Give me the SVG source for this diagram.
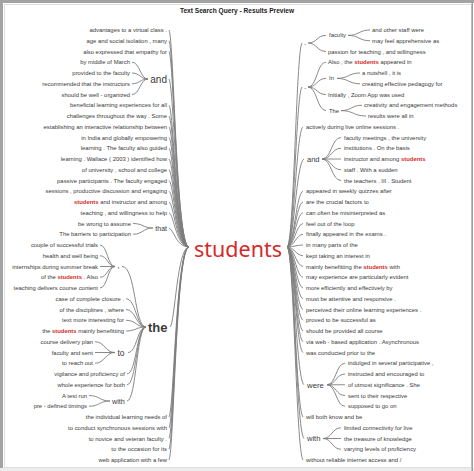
<svg xmlns="http://www.w3.org/2000/svg" width="474" height="471" viewBox="0 0 474 471">
<style>
text{font-family:"Liberation Sans",Arial,sans-serif;fill:#3a3a3a}
.t{font-size:5.9px}
.e{text-anchor:end}
.hl{fill:#d42a2a;font-weight:bold}
.title{font-size:6.6px;font-weight:bold;text-anchor:middle;fill:#222}
.root{font-family:"Noto Sans","Open Sans",sans-serif;font-size:21.5px;fill:#d42a2a;text-anchor:middle}
.c path{fill:none;stroke:#7d7d7d;stroke-width:0.9}
</style>
<rect x="0" y="0" width="474" height="471" fill="#ffffff"/>
<rect x="4.5" y="4.5" width="467" height="463" fill="none" stroke="#dedede" stroke-width="1"/>
<rect x="0" y="0" width="3" height="471" fill="#a3a3a3"/>
<rect x="0" y="0" width="474" height="3" fill="#a3a3a3"/>
<rect x="0" y="468" width="474" height="3" fill="#ececec"/>
<rect x="471.5" y="0" width="1.5" height="471" fill="#9e9e9e"/>
<text class="title" x="237" y="13">Text Search Query - Results Preview</text>

<g id="connectors" class="c">
<!-- left root connectors -->
<path d="M169,30 C174,38.7 176,247 189,247"/>
<path d="M169,40.75 C174,49 176,247 189,247"/>
<path d="M169,51.5 C174,59.3 176,247 189,247"/>
<path d="M169,79 C174,85.1 176,247 189,247"/>
<path d="M169,105.25 C174,110.9 176,247 189,247"/>
<path d="M169,116 C174,121.2 176,247 189,247"/>
<path d="M169,126.75 C174,131.6 176,247 189,247"/>
<path d="M169,137.5 C174,141.9 176,247 189,247"/>
<path d="M169,148.25 C174,152.2 176,247 189,247"/>
<path d="M169,159 C174,162.5 176,247 189,247"/>
<path d="M169,169.75 C174,172.8 176,247 189,247"/>
<path d="M169,180.5 C174,183.2 176,247 189,247"/>
<path d="M169,191.25 C174,193.5 176,247 189,247"/>
<path d="M169,202 C174,203.8 176,247 189,247"/>
<path d="M169,212.75 C174,214.1 176,247 189,247"/>
<path d="M169,228 C174,229.7 176,247 189,247"/>
<path d="M170,327 C175,323.8 177,247 189,247"/>
<path d="M169,417 C174,410.2 176,247 189,247"/>
<path d="M169,427.75 C174,420.6 176,247 189,247"/>
<path d="M169,438.5 C174,430.9 176,247 189,247"/>
<path d="M169,449.25 C174,441.2 176,247 189,247"/>
<path d="M169,460 C174,451.5 176,247 189,247"/>
<!-- left sub connectors -->
<path d="M132,62.25 C140,62.25 140,79 148,79"/>
<path d="M132,73 C140,73 140,79 148,79"/>
<path d="M132,83.75 C140,83.75 140,79 148,79"/>
<path d="M132,94.5 C140,94.5 140,79 148,79"/>
<path d="M133,223.5 C143,223.5 143,228 153,228"/>
<path d="M133,234.25 C143,234.25 143,228 153,228"/>
<path d="M100,245 C107.5,245 107.5,266.5 115,266.5"/>
<path d="M100,255.75 C107.5,255.75 107.5,266.5 115,266.5"/>
<path d="M100,266.5 L115,266.5"/>
<path d="M100,277.25 C107.5,277.25 107.5,266.5 115,266.5"/>
<path d="M100,288 C107.5,288 107.5,266.5 115,266.5"/>
<path d="M122,266.5 C136,266.5 134,327 146,327"/>
<path d="M126,298.75 C136,298.75 136,327 146,327"/>
<path d="M126,309.5 C136,309.5 136,327 146,327"/>
<path d="M126,320.25 C136,320.25 136,327 146,327"/>
<path d="M126,331 C136,331 136,327 146,327"/>
<path d="M128,352.5 C137,352.5 137,327 146,327"/>
<path d="M127,374 C136.5,374 136.5,327 146,327"/>
<path d="M127,384.75 C136.5,384.75 136.5,327 146,327"/>
<path d="M127,401 C136.5,401 136.5,327 146,327"/>
<path d="M95,341.75 C105,341.75 105,352.5 115,352.5"/>
<path d="M95,352.5 L115,352.5"/>
<path d="M95,363.25 C105,363.25 105,352.5 115,352.5"/>
<path d="M89,395.5 C99.5,395.5 99.5,401 110,401"/>
<path d="M89,406.25 C99.5,406.25 99.5,401 110,401"/>
<!-- right root connectors -->
<path d="M302,43 C296,51.2 294,247 287,247"/>
<path d="M302,87 C296,93.4 294,247 287,247"/>
<path d="M303,126.75 C296,131.6 294,247 287,247"/>
<path d="M304,159 C296,162.5 294,247 287,247"/>
<path d="M303,191.25 C296,193.5 294,247 287,247"/>
<path d="M303,202 C296,203.8 294,247 287,247"/>
<path d="M303,212.75 C296,214.1 294,247 287,247"/>
<path d="M303,223.5 C296,224.4 294,247 287,247"/>
<path d="M303,234.25 C296,234.8 294,247 287,247"/>
<path d="M303,245 C296,245.1 294,247 287,247"/>
<path d="M303,255.75 C296,255.4 294,247 287,247"/>
<path d="M303,266.5 C296,265.7 294,247 287,247"/>
<path d="M303,277.25 C296,276 294,247 287,247"/>
<path d="M303,288 C296,286.4 294,247 287,247"/>
<path d="M303,298.75 C296,296.7 294,247 287,247"/>
<path d="M303,309.5 C296,307 294,247 287,247"/>
<path d="M303,320.25 C296,317.3 294,247 287,247"/>
<path d="M303,331 C296,327.6 294,247 287,247"/>
<path d="M303,341.75 C296,338 294,247 287,247"/>
<path d="M303,352.5 C296,348.3 294,247 287,247"/>
<path d="M304,384.75 C296,379.2 294,247 287,247"/>
<path d="M303,417 C296,410.2 294,247 287,247"/>
<path d="M304,438.5 C296,430.9 294,247 287,247"/>
<path d="M303,460 C296,451.5 294,247 287,247"/>
<!-- right sub connectors -->
<path d="M308,43 C317,43 317,35.4 326,35.4"/>
<path d="M308,43 C317,43 317,51.5 326,51.5"/>
<path d="M348,35.4 C359,35.4 359,30 370,30"/>
<path d="M348,35.4 C359,35.4 359,40.75 370,40.75"/>
<path d="M308,87 C317,87 317,62.25 326,62.25"/>
<path d="M308,87 C317,87 317,78.4 326,78.4"/>
<path d="M308,87 C317,87 317,94.5 326,94.5"/>
<path d="M308,87 C317,87 317,110.6 326,110.6"/>
<path d="M337,78.4 C348.5,78.4 348.5,73 360,73"/>
<path d="M337,78.4 C348.5,78.4 348.5,83.75 360,83.75"/>
<path d="M341,110.6 C351.5,110.6 351.5,105.25 362,105.25"/>
<path d="M341,110.6 C353.5,110.6 353.5,116 366,116"/>
<path d="M322,159 C331.5,159 331.5,137.5 341,137.5"/>
<path d="M322,159 C331.5,159 331.5,148.25 341,148.25"/>
<path d="M322,159 L341,159"/>
<path d="M322,159 C331.5,159 331.5,169.75 341,169.75"/>
<path d="M322,159 C331.5,159 331.5,180.5 341,180.5"/>
<path d="M327,384.75 C336,384.75 336,363.25 345,363.25"/>
<path d="M327,384.75 C336,384.75 336,374 345,374"/>
<path d="M327,384.75 L345,384.75"/>
<path d="M327,384.75 C336,384.75 336,395.5 345,395.5"/>
<path d="M327,384.75 C336,384.75 336,406.25 345,406.25"/>
<path d="M323,438.5 C332,438.5 332,427.75 341,427.75"/>
<path d="M323,438.5 L341,438.5"/>
<path d="M323,438.5 C332,438.5 332,449.25 341,449.25"/>
</g>

<g id="root"><text class="root" x="238" y="257">students</text></g>

<!-- left side -->
<g id="l00"><text class="t e" x="167" y="32">advantages to a virtual class .</text></g>
<g id="l01"><text class="t e" x="167" y="42.75">age and social isolation , many</text></g>
<g id="l02"><text class="t e" x="167" y="53.5">also expressed that empathy for</text></g>
<g id="l-and"><text class="e" x="167" y="83" font-size="10">and</text></g>
<g id="l03"><text class="t e" x="130" y="64.25">by middle of March</text></g>
<g id="l04"><text class="t e" x="130" y="75">provided to the faculty</text></g>
<g id="l05"><text class="t e" x="130" y="85.75">recommended that the instructors</text></g>
<g id="l06"><text class="t e" x="130" y="96.5">should be well - organized</text></g>
<g id="l07"><text class="t e" x="167" y="107.25">beneficial learning experiences for all</text></g>
<g id="l08"><text class="t e" x="167" y="118">challenges throughout the way . Some</text></g>
<g id="l09"><text class="t e" x="167" y="128.75">establishing an interactive relationship between</text></g>
<g id="l10"><text class="t e" x="167" y="139.5">in India and globally empowering</text></g>
<g id="l11"><text class="t e" x="167" y="150.25">learning . The faculty also guided</text></g>
<g id="l12"><text class="t e" x="167" y="161">learning . Wallace ( 2003 ) identified how</text></g>
<g id="l13"><text class="t e" x="167" y="171.75">of university , school and college</text></g>
<g id="l14"><text class="t e" x="167" y="182.5">passive participants . The faculty engaged</text></g>
<g id="l15"><text class="t e" x="167" y="193.25">sessions , productive discussion and engaging</text></g>
<g id="l16"><text class="t e" x="167" y="204"><tspan class="hl">students</tspan> and instructor and among</text></g>
<g id="l17"><text class="t e" x="167" y="214.75">teaching , and willingness to help</text></g>
<g id="l-that"><text class="e" x="167" y="230.5" font-size="7">that</text></g>
<g id="l18"><text class="t e" x="131" y="225.5">be wrong to assume</text></g>
<g id="l19"><text class="t e" x="131" y="236.25">The barriers to participation</text></g>
<g id="l-comma"><text x="117.5" y="268" font-size="8">,</text></g>
<g id="l20"><text class="t e" x="98" y="247">couple of successful trials</text></g>
<g id="l21"><text class="t e" x="98" y="257.75">health and well being</text></g>
<g id="l22"><text class="t e" x="98" y="268.5">internships during summer break</text></g>
<g id="l23"><text class="t e" x="98" y="279.25">of the <tspan class="hl">students</tspan> . Also</text></g>
<g id="l24"><text class="t e" x="98" y="290">teaching delivers course content</text></g>
<g id="l-the"><text x="148" y="331.5" font-size="13" font-weight="bold" fill="#222">the</text></g>
<g id="l25"><text class="t e" x="124" y="300.75">case of complete closure .</text></g>
<g id="l26"><text class="t e" x="124" y="311.5">of the disciplines , where</text></g>
<g id="l27"><text class="t e" x="124" y="322.25">text more interesting for</text></g>
<g id="l28"><text class="t e" x="124" y="333">the <tspan class="hl">students</tspan> mainly benefitting</text></g>
<g id="l-to"><text x="117.5" y="355.5" font-size="8.5">to</text></g>
<g id="l29"><text class="t e" x="93" y="343.75">course delivery plan</text></g>
<g id="l30"><text class="t e" x="93" y="354.5">faculty and sent</text></g>
<g id="l31"><text class="t e" x="93" y="365.25">to reach out</text></g>
<g id="l32"><text class="t e" x="125" y="376">vigilance and proficiency of</text></g>
<g id="l33"><text class="t e" x="125" y="386.75">whole experience for both</text></g>
<g id="l-with"><text x="112" y="403.5" font-size="7.2">with</text></g>
<g id="l34"><text class="t e" x="87" y="397.5">A test run</text></g>
<g id="l35"><text class="t e" x="87" y="408.25">pre - defined timings</text></g>
<g id="l36"><text class="t e" x="167" y="419">the individual learning needs of</text></g>
<g id="l37"><text class="t e" x="167" y="429.75">to conduct synchronous sessions with</text></g>
<g id="l38"><text class="t e" x="167" y="440.5">to novice and veteran faculty .</text></g>
<g id="l39"><text class="t e" x="167" y="451.25">to the occasion for its</text></g>
<g id="l40"><text class="t e" x="167" y="462">web application with a few</text></g>

<!-- right side -->
<g id="r-dot1"><text x="304" y="44.5" font-size="8">.</text></g>
<g id="r-faculty"><text class="t" x="329" y="37.4">faculty</text></g>
<g id="r00"><text class="t" x="372" y="32">and other staff were</text></g>
<g id="r01"><text class="t" x="372" y="42.75">may feel apprehensive as</text></g>
<g id="r02"><text class="t" x="328" y="53.5">passion for teaching , and willingness</text></g>
<g id="r-dot2"><text x="304" y="88.5" font-size="8">.</text></g>
<g id="r03"><text class="t" x="328" y="64.25">Also , the <tspan class="hl">students</tspan> appeared in</text></g>
<g id="r-in"><text class="t" x="329" y="80.4">In</text></g>
<g id="r04"><text class="t" x="362" y="75">a nutshell , it is</text></g>
<g id="r05"><text class="t" x="362" y="85.75">creating effective pedagogy for</text></g>
<g id="r06"><text class="t" x="328" y="96.5">Initially , Zoom App was used</text></g>
<g id="r-the"><text class="t" x="329" y="112.6">The</text></g>
<g id="r07"><text class="t" x="364" y="107.25">creativity and engagement methods</text></g>
<g id="r08"><text class="t" x="368" y="118">results were all in</text></g>
<g id="r09"><text class="t" x="306" y="128.75">actively during live online sessions .</text></g>
<g id="r-and"><text x="307" y="161.7" font-size="7.5">and</text></g>
<g id="r10"><text class="t" x="344" y="139.5">faculty meetings , the university</text></g>
<g id="r11"><text class="t" x="344" y="150.25">institutions . On the basis</text></g>
<g id="r12"><text class="t" x="344" y="161">instructor and among <tspan class="hl">students</tspan></text></g>
<g id="r13"><text class="t" x="344" y="171.75">staff . With a sudden</text></g>
<g id="r14"><text class="t" x="344" y="182.5">the teachers . III . Student</text></g>
<g id="r15"><text class="t" x="306" y="193.25">appeared in weekly quizzes after</text></g>
<g id="r16"><text class="t" x="306" y="204">are the crucial factors to</text></g>
<g id="r17"><text class="t" x="306" y="214.75">can often be misinterpreted as</text></g>
<g id="r18"><text class="t" x="306" y="225.5">feel out of the loop</text></g>
<g id="r19"><text class="t" x="306" y="236.25">finally appeared in the exams .</text></g>
<g id="r20"><text class="t" x="306" y="247">in many parts of the</text></g>
<g id="r21"><text class="t" x="306" y="257.75">kept taking an interest in</text></g>
<g id="r22"><text class="t" x="306" y="268.5">mainly benefitting the <tspan class="hl">students</tspan> with</text></g>
<g id="r23"><text class="t" x="306" y="279.25">may experience are particularly evident</text></g>
<g id="r24"><text class="t" x="306" y="290">more efficiently and effectively by</text></g>
<g id="r25"><text class="t" x="306" y="300.75">must be attentive and responsive .</text></g>
<g id="r26"><text class="t" x="306" y="311.5">perceived their online learning experiences .</text></g>
<g id="r27"><text class="t" x="306" y="322.25">proved to be successful as</text></g>
<g id="r28"><text class="t" x="306" y="333">should be provided all course</text></g>
<g id="r29"><text class="t" x="306" y="343.75">via web - based application . Asynchronous</text></g>
<g id="r30"><text class="t" x="306" y="354.5">was conducted prior to the</text></g>
<g id="r-were"><text x="307" y="387.5" font-size="7.8">were</text></g>
<g id="r31"><text class="t" x="348" y="365.25">indulged in several participative ,</text></g>
<g id="r32"><text class="t" x="348" y="376">instructed and encouraged to</text></g>
<g id="r33"><text class="t" x="348" y="386.75">of utmost significance . She</text></g>
<g id="r34"><text class="t" x="348" y="397.5">sent to their respective</text></g>
<g id="r35"><text class="t" x="348" y="408.25">supposed to go on</text></g>
<g id="r36"><text class="t" x="306" y="419">will both know and be</text></g>
<g id="r-with"><text x="307" y="441.2" font-size="7.5">with</text></g>
<g id="r37"><text class="t" x="344" y="429.75">limited connectivity for live</text></g>
<g id="r38"><text class="t" x="344" y="440.5">the treasure of knowledge</text></g>
<g id="r39"><text class="t" x="344" y="451.25">varying levels of proficiency</text></g>
<g id="r40"><text class="t" x="306" y="462">without reliable internet access and /</text></g>
</svg>
